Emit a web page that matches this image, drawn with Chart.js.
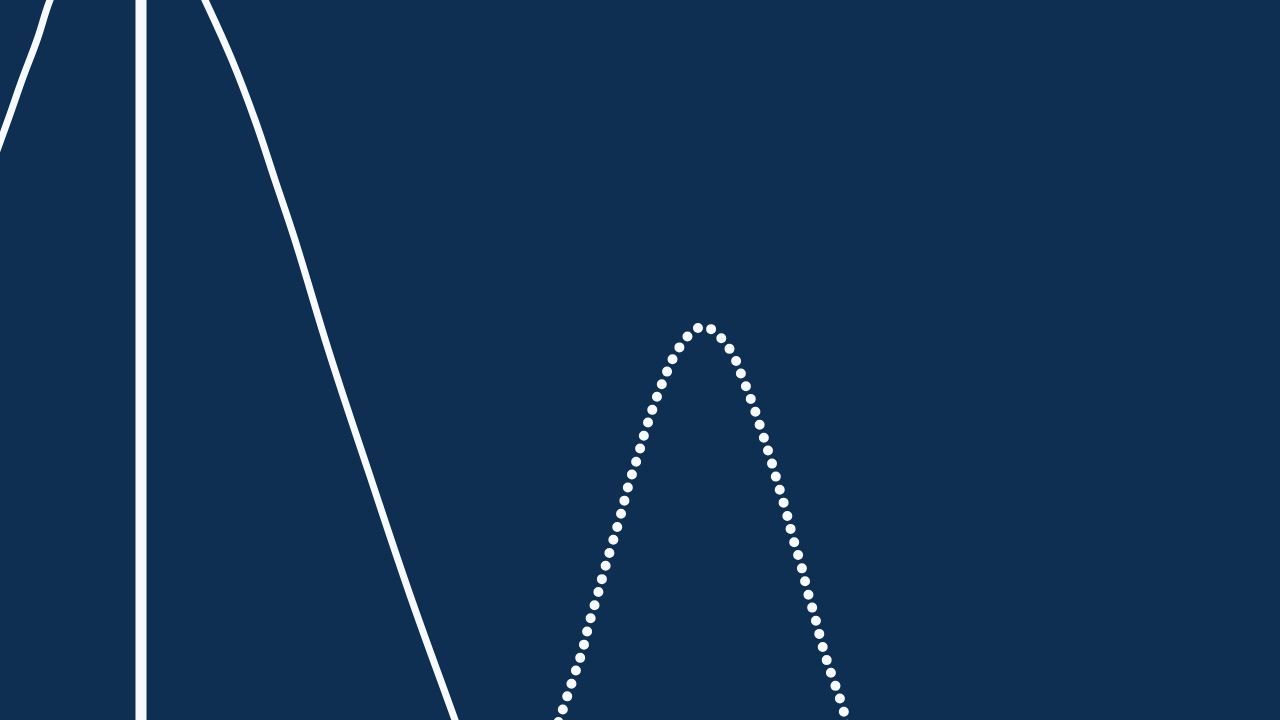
<!DOCTYPE html>
<html>
<head>
<meta charset="utf-8">
<script src="https://cdn.jsdelivr.net/npm/chart.js@4"></script>
<style>
  html, body { margin: 0; padding: 0; background: #0e2f51; overflow: hidden; }
  #wrap { width: 1280px; height: 720px; position: relative; }
</style>
</head>
<body>
<div id="wrap"><canvas id="chart"></canvas></div>
<script>
// ================================================================
// DATOS (leídos de la imagen, y = altura sobre la base)
// ================================================================
// curva continua (ancha), el pico queda fuera por arriba
const solidX = [-30, -14, 8, 22, 37, 50, 64, 84, 106, 128, 150, 172, 190, 205, 232, 255, 275, 295, 330, 368, 410, 455, 462];
const solidY = [500, 540, 600, 640, 680, 720, 750, 775, 789, 793, 789, 775, 750, 720, 660, 600, 540, 480, 365, 250, 125, 0, -20];

// curva punteada (estrecha)
const dotX = [554, 564, 573, 582, 589, 597, 605, 613, 621, 628, 637, 645, 654, 664, 676, 692, 704,
              716, 732, 743, 753, 762, 770, 778, 786, 793, 801, 808, 816, 823, 832, 841, 850];
const dotY = [-15, 14, 41, 68, 96, 123, 152, 179, 206, 233, 261, 288, 315, 341, 367, 388, 393,
              387, 367, 341, 315, 288, 263, 236, 209, 182, 155, 127, 99, 72, 44, 18, -15];

// línea vertical de referencia
const markerX = [141, 141];
const markerY = [-20, 740];

const COLORS = {
    bg: '#0e2f51',
    white: '#f7fbff'
};

const toPoints = (xs, ys) => xs.map((x, i) => ({ x, y: ys[i] }));

// fondo del lienzo
const bgPlugin = {
    id: 'bg',
    beforeDraw(chart) {
        const { ctx, width, height } = chart;
        ctx.save();
        ctx.fillStyle = COLORS.bg;
        ctx.fillRect(0, 0, width, height);
        ctx.restore();
    }
};

new Chart(document.getElementById('chart').getContext('2d'), {
    type: 'scatter',
    data: {
        datasets: [
            {
                data: toPoints(markerX, markerY),
                showLine: true,
                borderColor: COLORS.white,
                borderWidth: 11,
                pointRadius: 0,
                clip: false
            },
            {
                data: toPoints(solidX, solidY),
                showLine: true,
                borderColor: COLORS.white,
                borderWidth: 7,
                tension: 0.4,
                capBezierPoints: false,
                pointRadius: 0,
                clip: false
            },
            {
                data: toPoints(dotX, dotY),
                showLine: true,
                borderColor: COLORS.white,
                borderWidth: 10,
                borderDash: [0, 13.6],
                borderCapStyle: 'round',
                tension: 0.4,
                capBezierPoints: false,
                pointRadius: 0,
                clip: false
            }
        ]
    },
    options: {
        responsive: true,
        maintainAspectRatio: false,
        animation: false,
        layout: { padding: 0 },
        plugins: {
            legend: { display: false },
            tooltip: { enabled: false }
        },
        scales: {
            x: { type: 'linear', min: 0, max: 1280, display: false },
            y: { type: 'linear', min: 0, max: 720, display: false }
        }
    },
    plugins: [bgPlugin]
});
</script>
</body>
</html>
